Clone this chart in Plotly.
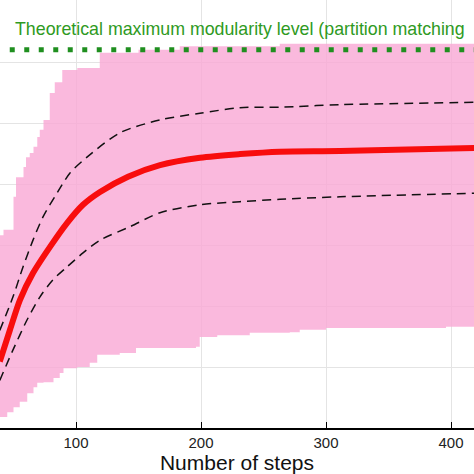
import plotly.graph_objects as go

# ---- data ----
band_upper_x = [38, 42, 50, 52, 58, 60, 63, 66, 69, 71, 74, 79, 83, 89, 101, 119, 150, 183, 263, 420]
band_upper_y = [0.316, 0.325, 0.379, 0.411, 0.428, 0.444, 0.451, 0.461, 0.477, 0.489, 0.505, 0.549,
                0.567, 0.587, 0.590, 0.615, 0.620, 0.626, 0.630, 0.630]

band_lower_x = [38, 45, 50, 55, 61, 66, 69, 74, 82, 87, 90, 101, 111, 117, 135, 148, 196, 199, 213,
                239, 271, 279, 300, 396, 420]
band_lower_y = [0.018, 0.026, 0.034, 0.043, 0.057, 0.067, 0.074, 0.075, 0.082, 0.090, 0.098, 0.100,
                0.107, 0.120, 0.123, 0.131, 0.133, 0.149, 0.152, 0.156, 0.157, 0.161, 0.164, 0.166, 0.167]

mean_x = [39, 47.2, 55.2, 65.6, 79.2, 92.8, 105.6, 119.2, 141.6, 167.2, 199.2, 231.2, 263.2, 311.2, 420]
mean_y = [0.109, 0.161, 0.210, 0.254, 0.297, 0.336, 0.366, 0.387, 0.412, 0.431, 0.443, 0.449,
          0.453, 0.454, 0.459]

upper_dash_x = [39, 49.6, 57.6, 65.6, 73.6, 84.8, 95.2, 108.8, 135.2, 167.2, 199.2, 231.2, 263.2,
                311.2, 420]
upper_dash_y = [0.160, 0.215, 0.264, 0.308, 0.346, 0.385, 0.418, 0.444, 0.484, 0.505, 0.516, 0.525,
                0.526, 0.530, 0.534]

lower_dash_x = [39, 49.6, 60.8, 71.2, 81.6, 92.8, 105.6, 119.2, 143.2, 167.2, 199.2, 231.2, 263.2,
                311.2, 420]
lower_dash_y = [0.078, 0.128, 0.177, 0.215, 0.243, 0.264, 0.287, 0.308, 0.330, 0.353, 0.366, 0.371,
                0.375, 0.379, 0.385]

theoretical_max = 0.62
theory_x = [47, 420]

x_ticks = [100, 200, 300, 400]
y_grid = [0.1, 0.2, 0.3, 0.4, 0.5, 0.6]

fig = go.Figure()

fig.add_trace(go.Scatter(x=band_lower_x, y=band_lower_y, mode="lines", line=dict(width=0, shape="hv"),
                         showlegend=False, hoverinfo="skip"))
fig.add_trace(go.Scatter(x=band_upper_x, y=band_upper_y, mode="lines", line=dict(width=0, shape="hv"),
                         fill="tonexty", fillcolor="rgba(249,168,212,0.8)", showlegend=False,
                         hoverinfo="skip"))

fig.add_trace(go.Scatter(x=upper_dash_x, y=upper_dash_y, mode="lines",
                         line=dict(color="#111111", width=1.5, dash="9px,6px", shape="spline",
                                   smoothing=0.8),
                         showlegend=False))
fig.add_trace(go.Scatter(x=lower_dash_x, y=lower_dash_y, mode="lines",
                         line=dict(color="#111111", width=1.5, dash="9px,6px", shape="spline",
                                   smoothing=0.8),
                         showlegend=False))
fig.add_trace(go.Scatter(x=mean_x, y=mean_y, mode="lines",
                         line=dict(color="#f80d0d", width=6, shape="spline", smoothing=0.8),
                         showlegend=False))

fig.add_trace(go.Scatter(x=theory_x, y=[theoretical_max] * len(theory_x), mode="lines",
                         line=dict(color="#1f8f1f", width=5, dash="5px,9.5px"), showlegend=False))

fig.add_annotation(xref="paper", yref="paper", x=13 / 474, y=(428 - 29) / 428,
                   xanchor="left", yanchor="middle", showarrow=False,
                   text="Theoretical maximum modularity level (partition matching",
                   font=dict(family="Liberation Sans, Arial, sans-serif", size=17.8, color="#2e9a22"))

fig.update_layout(
    width=474, height=474,
    margin=dict(l=0, r=0, t=0, b=46),
    paper_bgcolor="white", plot_bgcolor="white",
    font=dict(family="Liberation Sans, Arial, sans-serif"),
    xaxis=dict(range=[39.2, 418.4], tickvals=x_ticks, showgrid=True, gridcolor="#e4e4e4",
               gridwidth=1, zeroline=False, showline=True, linecolor="black", linewidth=1.5,
               ticks="inside", ticklen=6, tickcolor="black", tickwidth=1,
               tickfont=dict(size=15, color="#222222"),
               title=dict(text="Number of steps", font=dict(size=21, color="#111111"), standoff=6),
               automargin=False),
    yaxis=dict(range=[0, 428 / 610], tickvals=y_grid, showgrid=True, gridcolor="#e4e4e4",
               gridwidth=1, zeroline=False, showticklabels=False, ticks="", showline=False,
               automargin=False),
)

fig.write_html("out.html")
